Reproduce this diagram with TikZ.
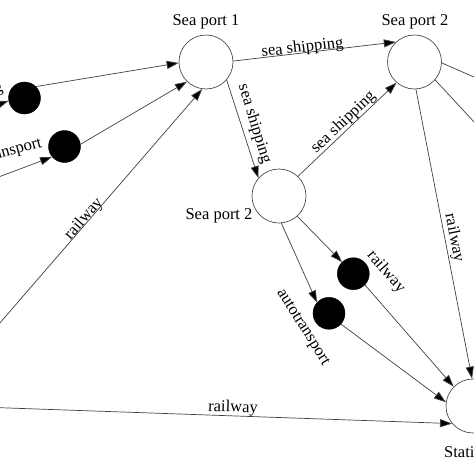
\documentclass[tikz,border=0pt]{standalone}
\usepackage{fontspec}
\setmainfont{Liberation Serif}
\usetikzlibrary{arrows.meta}
\begin{document}
\begin{tikzpicture}[x=1pt,y=-1pt,
  port/.style={circle,draw=black!70,fill=white,line width=0.7pt,minimum size=54pt,inner sep=0pt},
  hub/.style={circle,fill=black,draw=black,minimum size=32pt,inner sep=0pt},
  arr/.style={draw=black!75,line width=0.7pt,-{Triangle[length=12pt,width=8pt,fill=black]}},
  ln/.style={draw=black!75,line width=0.7pt},
  lbl/.style={font=\fontsize{16.5}{18}\selectfont,inner sep=0pt},
  ]
\useasboundingbox (0,0) rectangle (474,474);
\clip (0,0) rectangle (474,474);
% nodes
\node[port] (sp1) at (206,62) {};
\node[lbl] (sp1l) at (206,22) {Sea port 1};
\node[port] (sp2) at (414.5,62) {};
\node[lbl] (sp2l) at (415,22) {Sea port 2};
\node[port] (sp3) at (279,196) {};
\node[lbl] (sp3l) at (219,216) {Sea port 2};
\node[port] (st) at (473,406) {};
\node[lbl,anchor=west] (stl) at (444,452) {Station};
\node[hub] (b1) at (24.5,98) {};
\node[hub] (b2) at (64.5,146.5) {};
\node[hub] (bA) at (353.3,273.7) {};
\node[hub] (bB) at (329,313.3) {};
% free ends
\coordinate (c1) at (-32,115.6);
\coordinate (c2) at (-20,184);
\coordinate (c3) at (-20,346);
\coordinate (c4) at (-20,407);
\coordinate (c5) at (500,88.4);
\coordinate (c6) at (500,150);
% edges
\draw[arr] (c1) -- (b1.190);
\draw[arr] (b1.45) -- (sp1.182);
\draw[arr] (c2) -- (b2.220);
\draw[arr] (b2.8) -- (sp1.226);
\draw[arr] (c3) -- (sp1.262);
\draw[arr] (c4) -- (st.220);
\draw[arr] (sp1.2) -- (sp2.133);
\draw[arr] (sp1.-41) -- (sp3.139);
\draw[arr] (sp3.46) -- (sp2.229);
\draw[arr] (sp2.-87) -- (st.92);
\draw[ln] (sp2.-2) -- (c5);
\draw[ln] (sp2.-41) -- (c6);
\draw[arr] (sp3.-85) -- (bB.138);
\draw[arr] (sp3.-48) -- (bA.134);
\draw[arr] (bA.-44) -- (st.135);
\draw[arr] (bB.-42) -- (st.172);
% labels
\node[lbl,rotate=6.6] (l1) at (302.5,48) {sea shipping};
\node[lbl,rotate=-73] (l2) at (254.5,124) {sea shipping};
\node[lbl,rotate=43.5] (l3) at (343.5,122.5) {sea shipping};
\node[lbl,rotate=-79] (l4) at (454,238) {railway};
\node[lbl,rotate=-49] (l5) at (386,272) {railway};
\node[lbl,rotate=-58] (l6) at (302.5,327.5) {autotransport};
\node[lbl,rotate=-2] (l7) at (233,408) {railway};
\node[lbl,rotate=49] (l8) at (84,219) {railway};
\node[lbl,rotate=15,anchor=east] (l9) at (42,144) {autotransport};
\node[lbl,rotate=18,anchor=east] (l10) at (2.5,87) {sea shipping};
\end{tikzpicture}
\end{document}
